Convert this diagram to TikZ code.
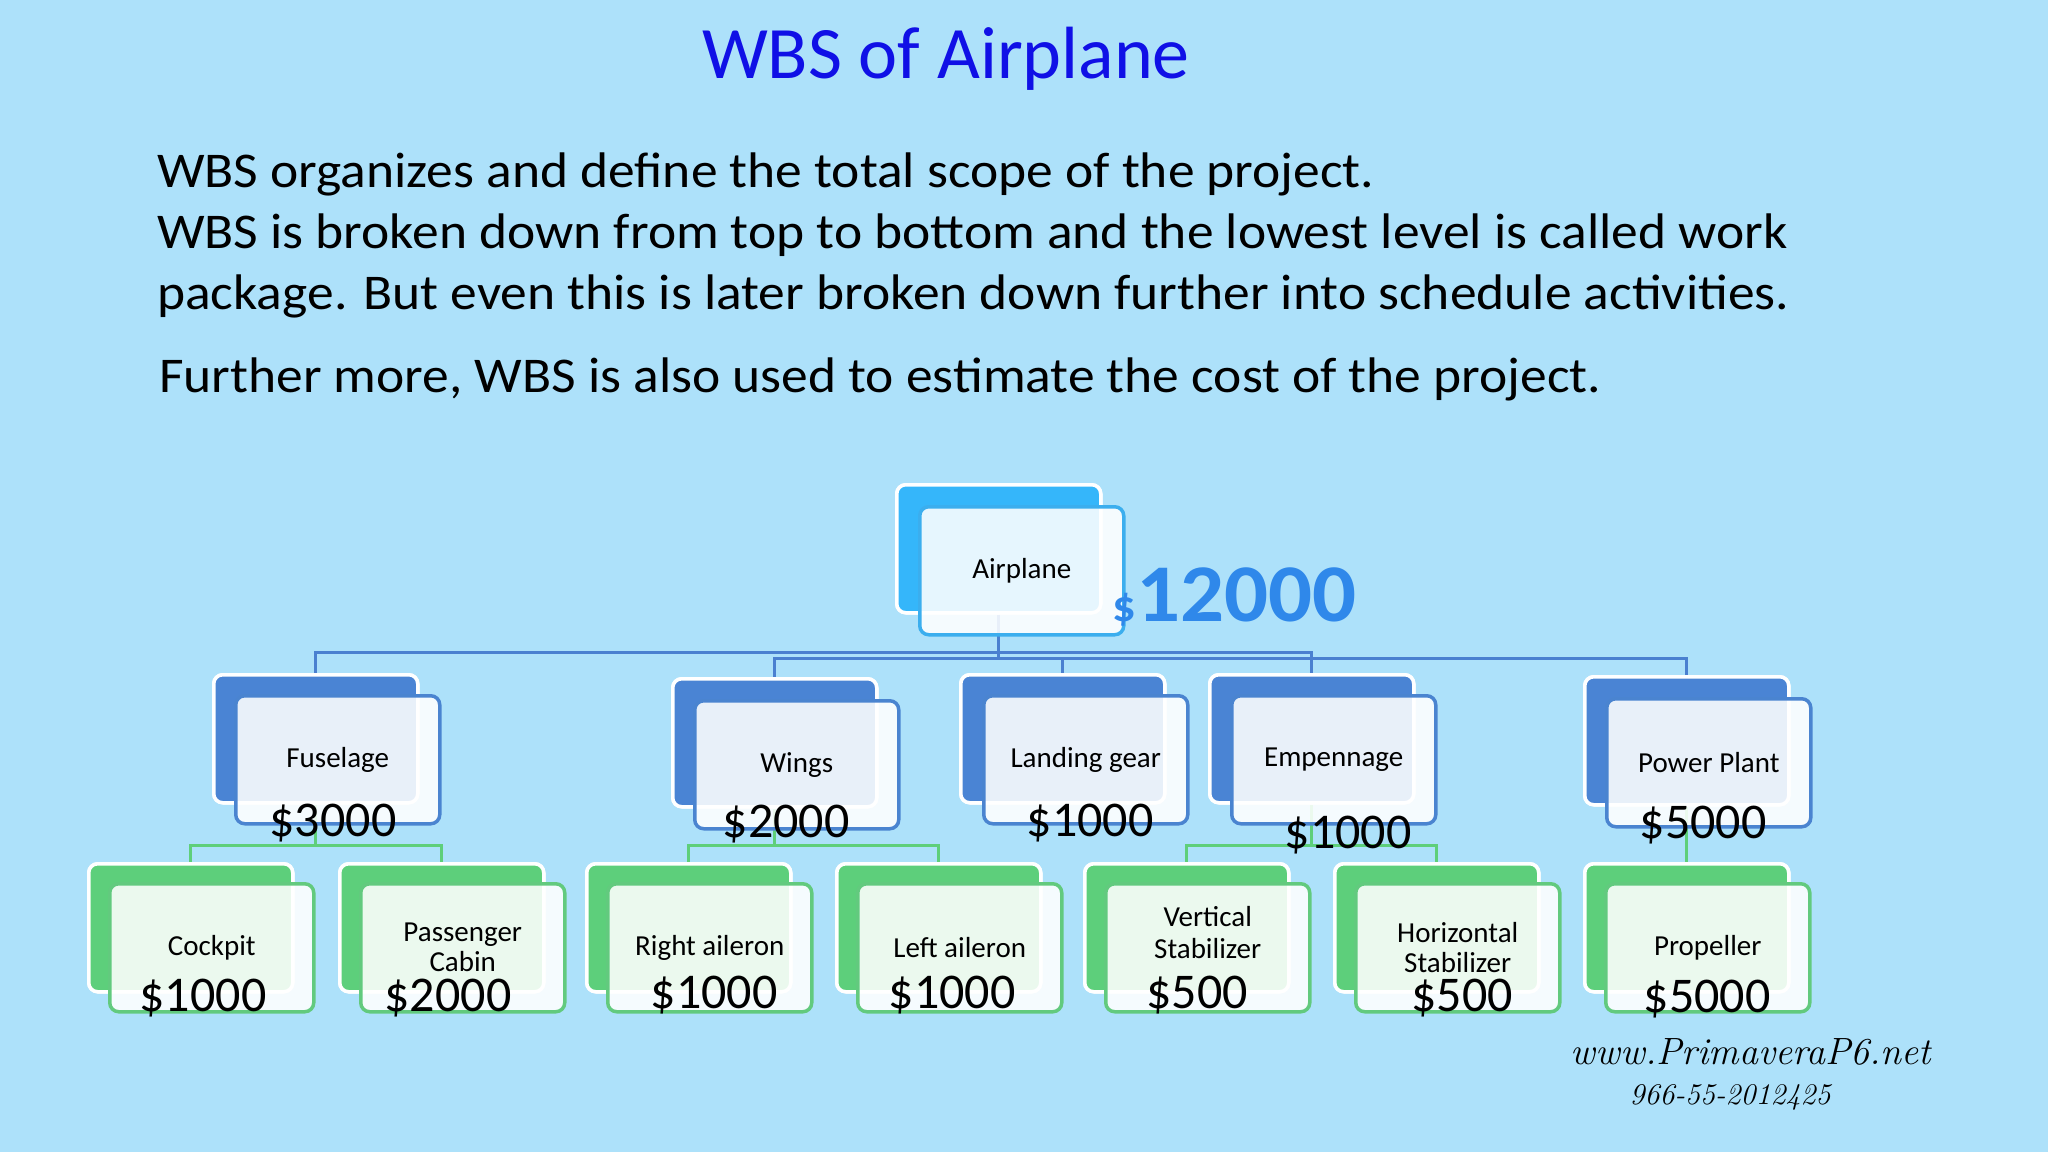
\documentclass[tikz,border=0pt]{standalone}
\usepackage[T1]{fontenc}
\usepackage{fontspec}
\setmainfont{Carlito}
\newfontfamily\numfont{Carlito}
\newfontfamily\bodyfont[FakeStretch=1.07]{Carlito}
\newfontfamily\bigfont[FakeStretch=1.06]{Carlito}
\newfontfamily\lmfont{Latin Modern Roman}
\IfFileExists{ec-qzcmi.tfm}
  {\newcommand{\handfont}{\fontencoding{T1}\fontfamily{qzc}\fontseries{m}\fontshape{it}\selectfont}}
  {\newcommand{\handfont}{\lmfont\itshape}}
\definecolor{bgblue}{HTML}{ADE1FA}
\definecolor{titleblue}{HTML}{1010E6}
\definecolor{topback}{HTML}{35B6FA}
\definecolor{topedge}{HTML}{3BAEEE}
\definecolor{midback}{HTML}{4A84D4}
\definecolor{midedge}{HTML}{4A84D0}
\definecolor{lowback}{HTML}{5DCF7B}
\definecolor{lowedge}{HTML}{62CA7E}
\definecolor{bigcost}{HTML}{2F88EA}
\definecolor{bluecon}{HTML}{4A80D0}
\definecolor{greencon}{HTML}{5ECF7A}
\begin{document}
\begin{tikzpicture}[x=1pt,y=-1pt,
  box/.style={anchor=north west, minimum width=204pt, minimum height=128pt, inner sep=0pt, rounded corners=9pt, line width=3.5pt},
  backbox/.style={box, draw=white},
  frontbox/.style={box, fill=white, fill opacity=0.88, text opacity=1, font=\fontsize{29}{32}\selectfont, align=center, text=black},
  topback/.style={backbox, fill=topback},
  topfront/.style={frontbox, draw=topedge},
  midback/.style={backbox, fill=midback},
  midfront/.style={frontbox, draw=midedge},
  lowback/.style={backbox, fill=lowback},
  lowfront/.style={frontbox, draw=lowedge},
  cost/.style={font=\numfont\fontsize{50}{50}\selectfont, text=black, inner sep=0pt},
  bodytext/.style={anchor=west, font=\bodyfont\fontsize{50}{58}\selectfont, text=black, inner sep=0pt},
  bcon/.style={draw=bluecon, line width=3pt},
  gcon/.style={draw=greencon, line width=3pt}
]
\fill[bgblue] (0,0) rectangle (2048,1152);
\useasboundingbox (0,0) rectangle (2048,1152);

% title and text
\node[font=\fontsize{74}{80}\selectfont, text=titleblue, inner sep=0pt] (title) at (946,59) {WBS of Airplane};
\node[bodytext] (t1) at (157,174) {WBS organizes and define the total scope of the project.};
\node[bodytext] (t2) at (157,235) {WBS is broken down from top to bottom and the lowest level is called work};
\node[bodytext] (t3) at (157,296) {package. But even this is later broken down further into schedule activities.};
\node[bodytext] (t4) at (159,379) {Further more, WBS is also used to estimate the cost of the project.};

% back boxes
\node[topback] (air-b) at (895,483) {};
\node[midback] (fus-b) at (212,673) {};
\node[midback] (win-b) at (671,677) {};
\node[midback] (lan-b) at (959,673) {};
\node[midback] (emp-b) at (1208,673) {};
\node[midback] (pow-b) at (1583,675) {};
\node[lowback] (coc-b) at (87,862) {};
\node[lowback] (pas-b) at (338,862) {};
\node[lowback] (rai-b) at (585,862) {};
\node[lowback] (lai-b) at (835,862) {};
\node[lowback] (ver-b) at (1083,862) {};
\node[lowback] (hor-b) at (1333,862) {};
\node[lowback] (pro-b) at (1583,862) {};

% connectors
\draw[bcon] (air-b.south) -- ++(0,38) -| (fus-b.north);
\draw[bcon] (air-b.south) -- ++(0,38) -| (emp-b.north);
\draw[bcon] (air-b.south) -- ++(0,44) -| (win-b.north);
\draw[bcon] (air-b.south) -- ++(0,44) -| (lan-b.north);
\draw[bcon] (air-b.south) -- ++(0,44) -| (pow-b.north);
\draw[gcon] (fus-b.south) -- ++(0,41) -| (coc-b.north);
\draw[gcon] (fus-b.south) -- ++(0,41) -| (pas-b.north);
\draw[gcon] (win-b.south) -- ++(0,37) -| (rai-b.north);
\draw[gcon] (win-b.south) -- ++(0,37) -| (lai-b.north);
\draw[gcon] (emp-b.south) -- ++(0,41) -| (ver-b.north);
\draw[gcon] (emp-b.south) -- ++(0,41) -| (hor-b.north);
\draw[gcon] (pow-b.south) -- (pro-b.north);

% redraw back boxes over connectors
\node[topback] at (895,483) {};
\node[midback] at (212,673) {};
\node[midback] at (671,677) {};
\node[midback] at (959,673) {};
\node[midback] at (1208,673) {};
\node[midback] at (1583,675) {};
\node[lowback] at (87,862) {};
\node[lowback] at (338,862) {};
\node[lowback] at (585,862) {};
\node[lowback] at (835,862) {};
\node[lowback] at (1083,862) {};
\node[lowback] at (1333,862) {};
\node[lowback] at (1583,862) {};

% front boxes
\node[topfront] (air) at (918,505) {Airplane};
\node[midfront] (fus) at (234,694) {Fuselage};
\node[midfront] (win) at (693,699) {Wings};
\node[midfront] (lan) at (982,694) {Landing gear};
\node[midfront] (emp) at (1230,694) {Empennage};
\node[midfront] (pow) at (1605,697) {Power Plant};
\node[lowfront] (coc) at (108,882) {Cockpit};
\node[lowfront] (pas) at (359,882) {Passenger\\[-2pt]Cabin};
\node[lowfront] (rai) at (606,882) {Right aileron};
\node[lowfront] (lai) at (856,882) {Left aileron};
\node[lowfront, label={[name=ver-t, font=\fontsize{29}{32}\selectfont, align=center, text=black, yshift=15pt]center:Vertical\\Stabilizer}] (ver) at (1104,882) {};
\node[lowfront] (hor) at (1354,882) {Horizontal\\[-2pt]Stabilizer};
\node[lowfront] (pro) at (1604,882) {Propeller};

% costs
\node[text=bigcost, inner sep=0pt, anchor=base west, font=\bigfont\bfseries\fontsize{44}{44}\selectfont] (air-cd) at (1112,621) {\$};
\node[text=bigcost, inner sep=0pt, anchor=base west, font=\bigfont\bfseries\fontsize{82}{82}\selectfont] (air-c) at (air-cd.base east) {12000};
\node[cost] (fus-c) at (333,823) {\$3000};
\node[cost] (win-c) at (786,824) {\$2000};
\node[cost] (lan-c) at (1090,823) {\$1000};
\node[cost] (emp-c) at (1348,835) {\$1000};
\node[cost] (pow-c) at (1703,825) {\$5000};
\node[cost] (coc-c) at (203,998) {\$1000};
\node[cost] (pas-c) at (448,998) {\$2000};
\node[cost] (rai-c) at (714,995) {\$1000};
\node[cost] (lai-c) at (952,995) {\$1000};
\node[cost] (ver-c) at (1197,995) {\$500};
\node[cost] (hor-c) at (1462,998) {\$500};
\node[cost] (pro-c) at (1707,999) {\$5000};

% footer
\node[font=\handfont\fontsize{38}{40}\selectfont, inner sep=0pt] (web) at (1751,1052) {www.PrimaveraP6.net};
\node[font=\handfont\fontsize{30}{32}\selectfont, inner sep=0pt] (tel) at (1730,1097) {966-55-2012425};
\end{tikzpicture}
\end{document}
